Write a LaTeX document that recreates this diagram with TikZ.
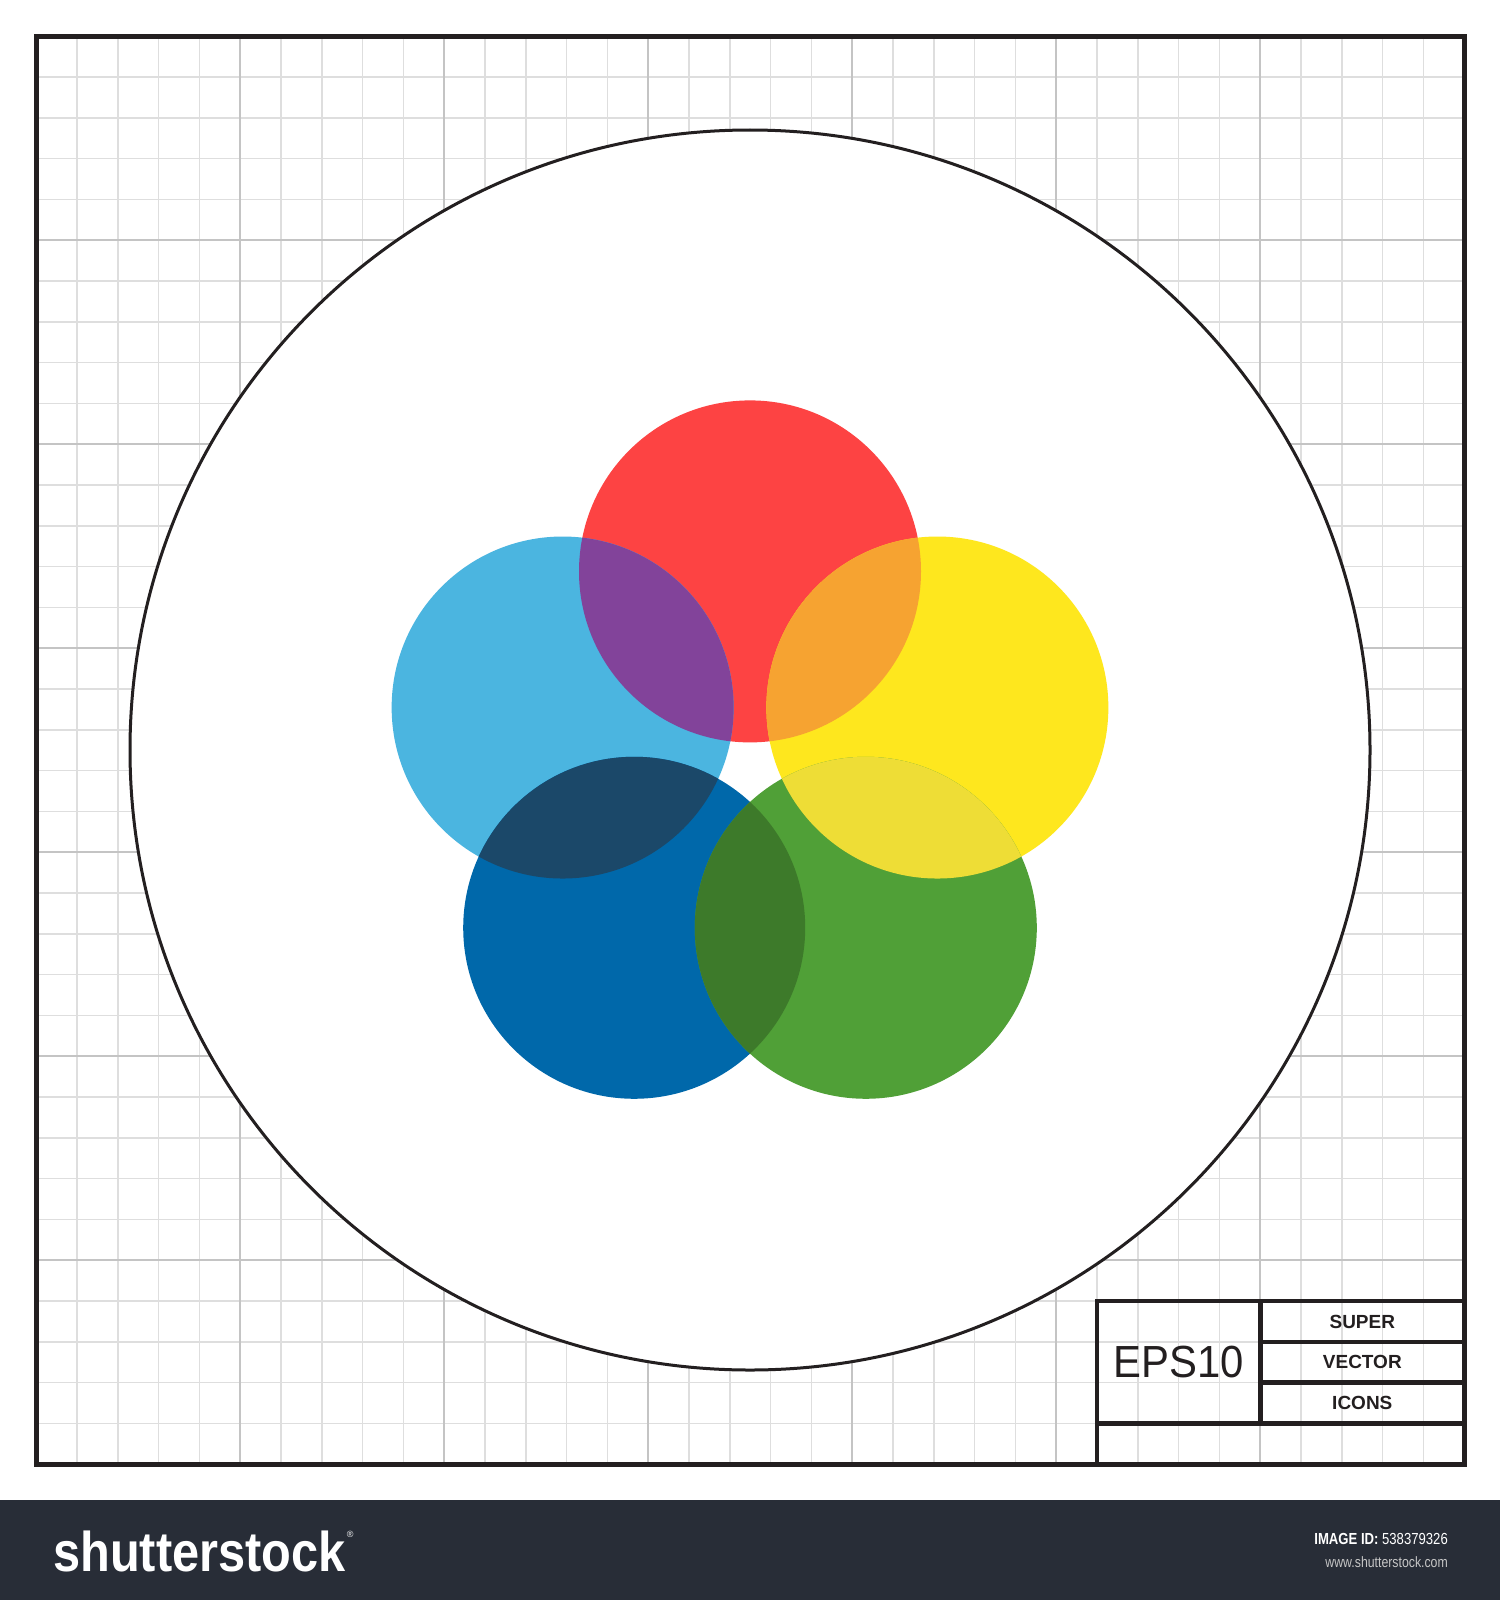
\documentclass[tikz,border=0pt]{standalone}
\usepackage{graphicx}
\usepackage{fontspec}
\setmainfont{Liberation Sans}
\definecolor{gridfine}{HTML}{DEDEDE}
\definecolor{gridbold}{HTML}{C4C4C4}
\definecolor{inkline}{HTML}{231F20}
\definecolor{cred}{HTML}{FD4343}
\definecolor{csky}{HTML}{4BB5E0}
\definecolor{cyel}{HTML}{FEE71E}
\definecolor{cnavy}{HTML}{0068AA}
\definecolor{cgreen}{HTML}{50A037}
\definecolor{lpurple}{HTML}{82439A}
\definecolor{lorange}{HTML}{F6A331}
\definecolor{ldeep}{HTML}{1B4869}
\definecolor{lforest}{HTML}{3D7A2A}
\definecolor{lolive}{HTML}{EEDD36}
\definecolor{barbg}{HTML}{282D37}
\tikzset{
  finegrid/.style={draw=gridfine,line width=1.5pt},
  boldgrid/.style={draw=gridbold,line width=2pt},
  blockline/.style={draw=inkline,line width=4.5pt,line cap=rect},
  cell/.style={inner sep=0pt,text=inkline,font=\bfseries\fontsize{19}{19}\selectfont}
}

\begin{document}
\begin{tikzpicture}[x=1pt,y=-1pt]
\useasboundingbox (0,0) rectangle (1500,1600);
\fill[white] (0,0) rectangle (1500,1600);
\coordinate (F1) at (36.3,36.3);
\coordinate (F2) at (1464.3,1464.3);
% grid paper
\foreach \i in {1,...,34}{
  \pgfmathsetmacro\p{36.3+40.8*\i}
  \draw[finegrid] (\p,36.3) -- (\p,1464.3) (36.3,\p) -- (1464.3,\p);
}
\foreach \i in {5,10,...,30}{
  \pgfmathsetmacro\p{36.3+40.8*\i}
  \draw[boldgrid] (\p,36.3) -- (\p,1464.3) (36.3,\p) -- (1464.3,\p);
}
\draw[draw=inkline,line width=5pt] (F1) rectangle (F2);
\coordinate (O) at (750,750);
\draw[draw=inkline,line width=3pt,fill=white] (O) circle[radius=620pt];
% five discs
\coordinate (P) at (750,768.4);
\foreach \n/\a in {R/90,S/162,Y/18,N/234,G/306}
  \coordinate (\n) at ([shift={(\a:197pt)}]P);
\foreach \n/\c in {R/cred,S/csky,Y/cyel,N/cnavy,G/cgreen}
  \fill[\c] (\n) circle[radius=171pt];
\foreach \a/\b/\c in {R/S/lpurple,R/Y/lorange,S/N/ldeep,N/G/lforest,Y/G/lolive}{
  \begin{scope}
  \clip (\a) circle[radius=171pt];
  \fill[\c] (\b) circle[radius=171pt];
  \end{scope}
}
% title block
\draw[blockline] (1097.1,1464.3) -- (1097.1,1301.1) -- (1464.3,1301.1)
  (1260.3,1301.1) -- (1260.3,1423.5) (1097.1,1423.5) -- (1464.3,1423.5)
  (1260.3,1341.9) -- (1464.3,1341.9) (1260.3,1382.7) -- (1464.3,1382.7);
\node[inner sep=0pt,text=inkline,font=\fontsize{45}{45}\selectfont] (eps) at (1178.7,1362.3) {\scalebox{0.93}[1]{EPS10}};
\node[cell] (super) at (1362.3,1321.5) {SUPER};
\node[cell] (vector) at (1362.3,1362.3) {VECTOR};
\node[cell] (icons) at (1362.3,1403.1) {ICONS};
% bottom bar
\fill[barbg] (0,1500) rectangle (1500,1600);
\node[anchor=base west,inner sep=0pt,text=white] (logo) at (53,1571)
  {\scalebox{0.87}[1]{\fontsize{56}{56}\selectfont\bfseries shutterstock}};
\node[anchor=north west,inner sep=1pt,text=white,font=\fontsize{9}{9}\selectfont] (reg) at (logo.north east) {\textregistered};
\node[anchor=base east,inner sep=0pt,text=white] (imgid) at (1448,1544)
  {\scalebox{0.82}[1]{\fontsize{16}{16}\selectfont\bfseries IMAGE ID: \mdseries 538379326}};
\node[anchor=base east,inner sep=0pt,text=gray!45] (site) at (1448,1567)
  {\scalebox{0.82}[1]{\fontsize{15}{15}\selectfont www.shutterstock.com}};
\end{tikzpicture}
\end{document}
